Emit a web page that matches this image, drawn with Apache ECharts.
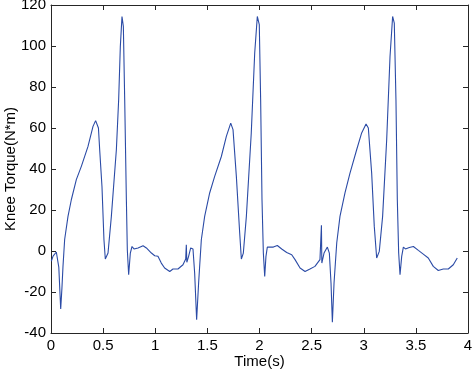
<!DOCTYPE html>
<html>
<head>
<meta charset="utf-8">
<script src="https://cdn.jsdelivr.net/npm/echarts@6/dist/echarts.min.js"></script>
<style>
html,body{margin:0;padding:0;background:#fff;}
#chart{width:474px;height:375px;}
</style>
</head>
<body>
<div id="chart"></div>
<script>
// Time in seconds
const timeS = [
0.003,0.02,0.051,0.062,0.075,0.093,0.105,0.115,0.131,0.163,0.195,0.243,0.291,0.355,0.403,0.428,0.445,0.455,0.467,0.489,
0.508,0.521,0.533,0.547,0.579,0.627,0.649,0.665,0.681,0.694,0.707,0.723,0.732,0.745,0.761,0.777,0.796,0.835,0.883,0.915,
0.963,0.995,1.026,1.058,1.09,1.139,1.17,1.218,1.266,1.292,1.298,1.303,1.32,1.34,1.362,1.378,1.397,1.416,1.442,1.474,
1.522,1.57,1.634,1.682,1.724,1.746,1.778,1.81,1.826,1.845,1.874,1.921,1.954,1.979,1.998,2.011,2.024,2.037,2.05,2.062,
2.075,2.094,2.133,2.171,2.213,2.261,2.309,2.341,2.389,2.437,2.484,2.532,2.58,2.594,2.598,2.619,2.651,2.67,2.686,2.699,
2.715,2.741,2.772,2.82,2.868,2.932,2.98,3.022,3.044,3.076,3.101,3.124,3.149,3.181,3.22,3.252,3.277,3.293,3.309,3.322,
3.335,3.348,3.364,3.38,3.4,3.437,3.476,3.524,3.571,3.619,3.667,3.715,3.763,3.811,3.859,3.897
];
// Knee torque in N*m
const kneeTorque = [
-5,-2.5,-0.5,-1,-8,-28.3,-18,-7.5,5.6,16.9,25,34.8,41.3,51,60.8,63.6,63,60,49.4,31.5,
5.5,-3.9,-3,-1,16.9,49.4,73.8,99.8,114.4,109.6,73.8,25,0.6,-11.6,-1,2.2,1,1.5,2.6,1.5,
-1,-2.3,-2.6,-5.9,-8.3,-10,-8.8,-8.8,-6.7,-3.9,3,-5.5,-2.6,1.5,1,-10.7,-33.5,-15.6,5.5,16.9,
28.3,36.4,46.1,55.9,62.4,59.2,36.4,8.8,-3.9,-1,16.9,57.6,96.6,114.4,110.4,73.8,25,-1,-12.4,-2.6,
1.9,1,1.9,2.7,1,-0.7,-1.8,-4.2,-8.3,-10,-8.8,-7.5,-4.2,12.5,-5.9,-1,1.9,-1,-15.6,-34.8,
-15.6,4,16.9,28.3,38,49.4,57.6,62,60,38,12,-3.4,-0.2,16.9,54.3,94.9,114.4,111.2,73.8,25,
-1,-11.6,-2.6,1.9,1,1.7,2.2,0.3,-1.5,-3.4,-7.5,-9.5,-8.8,-8.8,-6.7,-3.4
];
const xTicks = {min: 0, max: 4, step: 0.5};
const yTicks = {min: -40, max: 120, step: 20};
const xName = 'Time(s)';
const yName = 'Knee Torque(N*m)';

const chart = echarts.init(document.getElementById('chart'), null, {renderer: 'canvas'});
const axisColor = '#262626';
const font = 'Liberation Sans, Arial, sans-serif';
const baseAxis = {
  axisLine: {show: true, onZero: false, lineStyle: {color: axisColor, width: 1}},
  axisTick: {show: true, inside: true, length: 5, lineStyle: {color: axisColor}},
  splitLine: {show: false}
};
chart.setOption({
  animation: false,
  backgroundColor: '#fff',
  grid: {left: 51, right: 6, top: 5, bottom: 42, containLabel: false, outerBoundsMode: 'none'},
  xAxis: [
    Object.assign({}, baseAxis, {
      type: 'value', position: 'bottom', min: xTicks.min, max: xTicks.max, interval: xTicks.step,
      name: xName, nameLocation: 'middle', nameGap: 21, nameMoveOverlap: false,
      nameTextStyle: {color: '#000', fontSize: 15, fontFamily: font, verticalAlign: 'top'},
      axisLabel: {color: '#000', fontSize: 15, fontFamily: font, margin: 5}
    }),
    Object.assign({}, baseAxis, {
      type: 'value', position: 'top', min: xTicks.min, max: xTicks.max, interval: xTicks.step,
      axisLabel: {show: false}
    })
  ],
  yAxis: [
    Object.assign({}, baseAxis, {
      type: 'value', position: 'left', min: yTicks.min, max: yTicks.max, interval: yTicks.step,
      name: yName, nameLocation: 'middle', nameGap: 33, nameMoveOverlap: false,
      nameTextStyle: {color: '#000', fontSize: 15, fontFamily: font},
      axisLabel: {color: '#000', fontSize: 15, fontFamily: font, margin: 5}
    }),
    Object.assign({}, baseAxis, {
      type: 'value', position: 'right', min: yTicks.min, max: yTicks.max, interval: yTicks.step,
      axisLabel: {show: false}
    })
  ],
  series: [{
    type: 'line',
    xAxisIndex: 0, yAxisIndex: 0,
    data: timeS.map((t, i) => [t, kneeTorque[i]]),
    showSymbol: false,
    symbol: 'none',
    lineStyle: {color: '#2b4ba6', width: 1.1},
    clip: true
  }]
});
</script>
</body>
</html>
